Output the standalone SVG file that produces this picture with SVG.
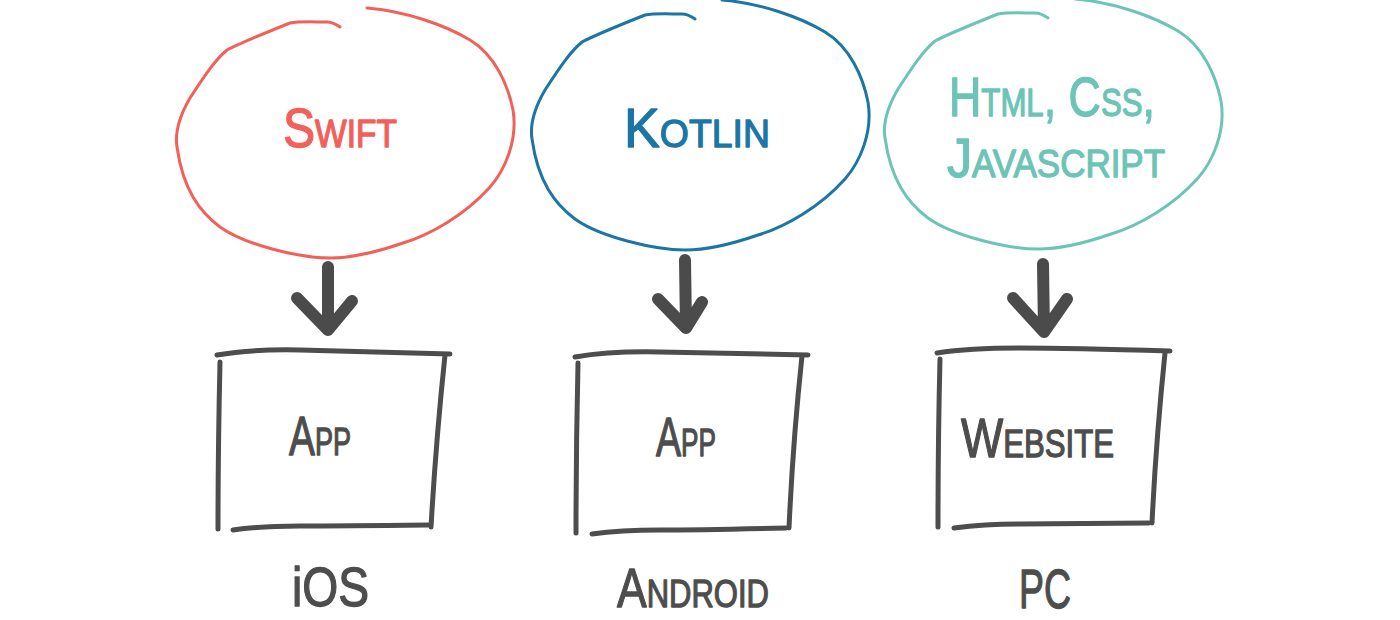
<svg xmlns="http://www.w3.org/2000/svg" width="1400" height="620" viewBox="0 0 1400 620">
  <style>
    .blob { fill: none; stroke-width: 3; stroke-linecap: round; stroke-linejoin: round; }
    .red { stroke: #f2605a; }
    .blue { stroke: #1b76a5; }
    .teal { stroke: #6cc4b5; }
    .box { fill: none; stroke: #4d4d4d; stroke-width: 5; stroke-linecap: round; stroke-linejoin: round; }
    .arrow { fill: none; stroke: #4b4b4b; stroke-width: 12; stroke-linecap: round; stroke-linejoin: round; }
    .lbl { font-family: "Liberation Sans", "DejaVu Sans", sans-serif; font-size: 56px; font-variant: small-caps; text-anchor: start; stroke-width: 1.3; stroke-linejoin: round; }
    .t-red { fill: #f2605a; stroke: #f2605a; }
    .t-blue { fill: #1b76a5; stroke: #1b76a5; }
    .t-teal { fill: #6cc4b5; stroke: #6cc4b5; }
    .t-gray { fill: #4d4d4d; stroke: #4d4d4d; }
  </style>
  <defs>
    <path id="blobShape" d="M367,8 C405,11 445,25 470,40 C495,55 508,85 513,110 C518,140 505,170 490,187 C465,215 430,235 403,243 C380,251 355,258 330,258 C300,258 245,245 220,227 C200,212 183,190 177,147 C174,128 183,110 190,98 C205,75 215,60 227,50 C240,43 265,33 290,23 C300,21 315,22 327,22 C333,22 337,25 340,27"/>
  </defs>
  <rect width="1400" height="620" fill="#ffffff"/>

  <g id="swift">
    <use href="#blobShape" class="blob red"/>
    <text class="lbl t-red" x="283" y="147" textLength="114" lengthAdjust="spacingAndGlyphs">Swift</text>
  </g>
  <g id="kotlin">
    <use href="#blobShape" class="blob blue" transform="translate(355,-8)"/>
    <text class="lbl t-blue" x="624" y="147" textLength="146" lengthAdjust="spacingAndGlyphs">Kotlin</text>
  </g>
  <g id="web-langs">
    <use href="#blobShape" class="blob teal" transform="translate(708,-9)"/>
    <text class="lbl t-teal" x="949" y="116" textLength="206" lengthAdjust="spacingAndGlyphs">Html, Css,</text>
    <text class="lbl t-teal" x="947" y="177" textLength="218" lengthAdjust="spacingAndGlyphs">Javascript</text>
  </g>

  <g id="connectors">
    <path class="arrow" d="M328,267 L328,330 M297,298 L328,330 L352,301"/>
    <path class="arrow" d="M685,260 L686,328 M658,299 L686,328 L702,302"/>
    <path class="arrow" d="M1043,264 L1044,332 M1013,298 L1044,332 L1067,299"/>
  </g>

  <g id="ios-app">
    <path class="box" d="M217,355 Q250,349 300,350 T450,354"/>
    <path class="box" d="M220,362 Q218,450 218,529"/>
    <path class="box" d="M445,355 Q436,440 431,527"/>
    <path class="box" d="M233,530 Q260,526 300,526 T428,525"/>
    <text class="lbl t-gray" x="289" y="455" textLength="62" lengthAdjust="spacingAndGlyphs">App</text>
  </g>
  <g id="android-app">
    <path class="box" d="M575,357 Q610,351 660,352 T808,355"/>
    <path class="box" d="M578,363 Q576,450 576,533"/>
    <path class="box" d="M802,356 Q793,440 789,528"/>
    <path class="box" d="M592,534 Q620,530 660,530 T786,528"/>
    <text class="lbl t-gray" x="656" y="456" textLength="60" lengthAdjust="spacingAndGlyphs">App</text>
  </g>
  <g id="pc-website">
    <path class="box" d="M937,353 Q970,348 1020,348 T1170,351"/>
    <path class="box" d="M940,359 Q938,440 938,527"/>
    <path class="box" d="M1165,353 Q1156,440 1152,523"/>
    <path class="box" d="M954,528 Q985,524 1020,524 T1149,523"/>
    <text class="lbl t-gray" x="961" y="457" textLength="153" lengthAdjust="spacingAndGlyphs">Website</text>
  </g>

  <g id="platform-labels">
    <text class="lbl t-gray" x="292" y="606" font-size="50" style="font-variant: normal" textLength="77" lengthAdjust="spacingAndGlyphs">iOS</text>
    <text class="lbl t-gray" x="617" y="607" textLength="152" lengthAdjust="spacingAndGlyphs">Android</text>
    <text class="lbl t-gray" x="1019" y="608" font-size="57" style="font-variant: normal" textLength="52" lengthAdjust="spacingAndGlyphs">PC</text>
  </g>
</svg>
